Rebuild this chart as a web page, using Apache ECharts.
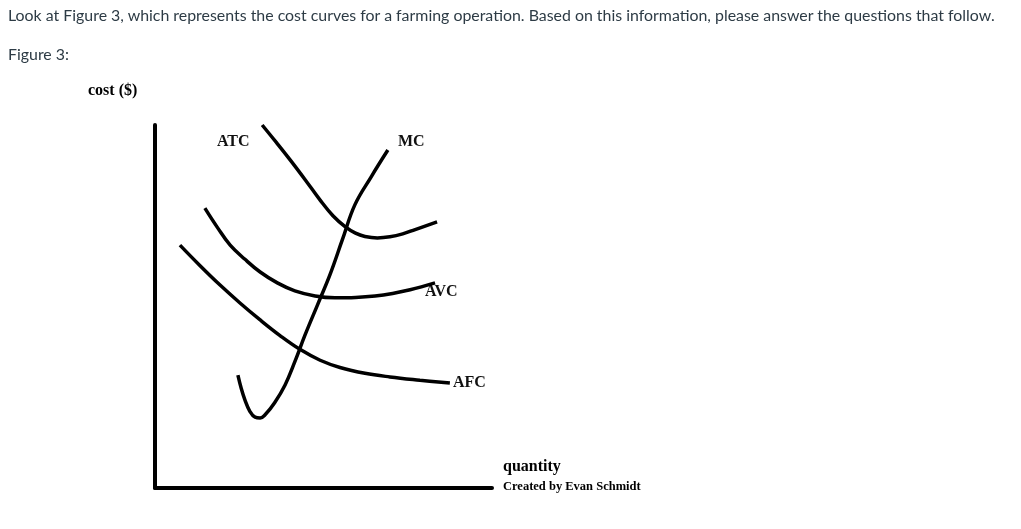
<!DOCTYPE html>
<html>
<head>
<meta charset="utf-8">
<script src="https://cdn.jsdelivr.net/npm/echarts@6/dist/echarts.min.js"></script>
<style>
body{margin:0;background:#fff;font-family:Lato,sans-serif;color:#2d3b45}
#q{position:absolute;left:8px;top:5px;font-size:15.9px}
#f{position:absolute;left:8px;top:44px;font-size:15.9px}
#chart{position:absolute;left:0;top:0;width:1021px;height:529px}
</style>
</head>
<body>
<div id="chart"></div>
<div id="q">Look at Figure 3, which represents the cost curves for a farming operation. Based on this information, please answer the questions that follow.</div>
<div id="f">Figure 3:</div>
<script>
// curves (quantity, cost) on a 0-100 scale
var atc=[[31.8,100],[36,95.2],[40.1,90.4],[44.5,85],[49.0,79.3],[52.8,75],[56.4,72],[59.5,70.2],[62.3,69.3],[66,68.9],[69.7,69.2],[73.5,70],[77.2,71.2],[83.7,73.3]];
var avc=[[14.8,77.1],[18.5,71.8],[22.3,66.9],[26.7,63],[31.2,59.5],[36.3,56.5],[41.5,54.3],[47.5,52.9],[53.4,52.4],[59.5,52.5],[65.3,52.9],[70.5,53.6],[75.7,54.6],[83.1,56.5]];
var afc=[[7.4,66.9],[13.3,61.3],[19.3,55.9],[25.3,50.9],[31.2,46.3],[37.1,42],[43.0,38.2],[49,35.2],[54.9,33.2],[62.3,31.6],[69.7,30.6],[78.6,29.7],[87.5,28.9]];
var mc=[[24.6,31.1],[25.6,27.4],[26.7,24.2],[28.1,21.2],[29.7,19.5],[31.2,19.3],[32.6,20.1],[35.5,23.5],[38.6,28.4],[41.5,34.8],[44.5,42.1],[48.2,50.4],[51.9,58.7],[55.6,68.4],[59.3,78.0],[64.2,85.8],[69.1,93.1]];

var chart=echarts.init(document.getElementById('chart'));
var serif='"Liberation Serif","DejaVu Serif",serif';
function curve(d){
  return {type:'line',data:d,smooth:0.4,symbol:'none',lineStyle:{color:'#000',width:3.5}};
}
chart.setOption({
  animation:false,
  grid:{left:155,right:529,top:125,bottom:41},
  xAxis:{type:'value',min:0,max:100,axisLine:{lineStyle:{color:'#000',width:4}},axisTick:{show:false},axisLabel:{show:false},splitLine:{show:false}},
  yAxis:{type:'value',min:0,max:100,axisLine:{show:true,lineStyle:{color:'#000',width:4}},axisTick:{show:false},axisLabel:{show:false},splitLine:{show:false}},
  series:[curve(atc),curve(avc),curve(afc),curve(mc)],
  graphic:[
    {type:'text',left:88,top:83,style:{text:'cost ($)',font:'bold 16px '+serif,fill:'#000'}},
    {type:'text',left:217,top:134,style:{text:'ATC',font:'bold 16px '+serif,fill:'#111'}},
    {type:'text',left:398,top:134,style:{text:'MC',font:'bold 16px '+serif,fill:'#111'}},
    {type:'text',left:425,top:284,style:{text:'AVC',font:'bold 16px '+serif,fill:'#111'}},
    {type:'text',left:453,top:375,style:{text:'AFC',font:'bold 16px '+serif,fill:'#111'}},
    {type:'text',left:503,top:459,style:{text:'quantity',font:'bold 16px '+serif,fill:'#000'}},
    {type:'text',left:503,top:480,style:{text:'Created by Evan Schmidt',font:'bold 12.5px '+serif,fill:'#000'}}
  ]
});
</script>
</body>
</html>
